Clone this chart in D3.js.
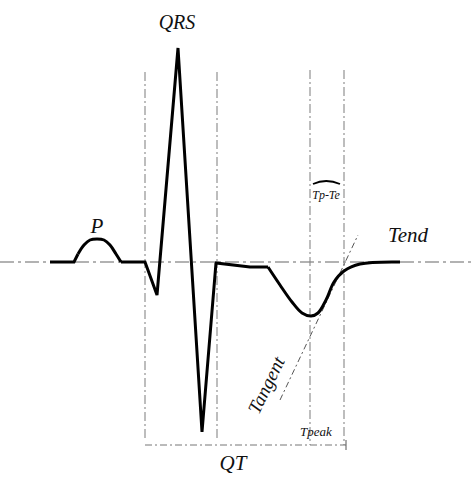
<!DOCTYPE html>
<html><head><meta charset="utf-8">
<script src="https://cdn.jsdelivr.net/npm/d3@7"></script>
<style>body{margin:0;background:#fff}svg{display:block}text{font-family:"Liberation Serif","DejaVu Serif",serif;font-style:italic;fill:#111}</style>
</head><body><svg width="474" height="482"></svg>
<script>
// ECG waveform samples (time units, amplitude units; baseline = 0)
const waveT = [50,74,78,84,90,97,104,110,116,121,145,157,178,202,216,250,268,280,292,302,311,318,326,334,344,360,400];
const waveV = [0,0,8,17,22,23,22,17,8,0,0,-33,214,-170,-1,-5,-5,-23,-40,-51,-54,-51,-38,-20,-9,-2,0];
const markerT = [145,217,310,344];          // vertical reference lines
const markerTop = [72,72,70,70];
const tangentT = [280,358], tangentV = [-138,27];
const labels = ["P","QRS","Tend","Tangent","Tpeak","Tp-Te","QT"];

const svg = d3.select("svg");
const x = d3.scaleLinear().domain([0,474]).range([0,474]);
const y = d3.scaleLinear().domain([-220,262]).range([482,0]);
const base = y(0);
const dash = "9,3,2,3";

svg.append("line").attr("x1",0).attr("x2",474).attr("y1",base).attr("y2",base)
  .attr("stroke","#999").attr("stroke-width",1.3).attr("stroke-dasharray","14,4,3,4");
markerT.forEach((t,i)=>svg.append("line").attr("x1",x(t)).attr("x2",x(t))
  .attr("y1",markerTop[i]).attr("y2",i<2?y(-178):y(-183)).attr("stroke","#888").attr("stroke-width",1.1).attr("stroke-dasharray",dash));
svg.append("line").attr("x1",x(tangentT[0])).attr("y1",y(tangentV[0])).attr("x2",x(tangentT[1])).attr("y2",y(tangentV[1]))
  .attr("stroke","#555").attr("stroke-width",1).attr("stroke-dasharray","6,3,2,3");

const pts = waveT.map((t,i)=>[t,waveV[i]]);
const line = d3.line().x(d=>x(d[0])).y(d=>y(d[1]));
const segs = [pts.slice(0,3), pts.slice(2,10), pts.slice(9,17), pts.slice(16)];
svg.append("path").attr("d",line(segs[0])).attr("fill","none").attr("stroke","#000").attr("stroke-width",3);
svg.append("path").attr("d",d3.line().x(d=>x(d[0])).y(d=>y(d[1])).curve(d3.curveCatmullRom)(segs[1])).attr("fill","none").attr("stroke","#000").attr("stroke-width",3);
svg.append("path").attr("d",d3.line().x(d=>x(d[0])).y(d=>y(d[1]))(segs[2])).attr("fill","none").attr("stroke","#000").attr("stroke-width",3).attr("stroke-linejoin","miter");
svg.append("path").attr("d",d3.line().x(d=>x(d[0])).y(d=>y(d[1])).curve(d3.curveCatmullRom)(segs[3])).attr("fill","none").attr("stroke","#000").attr("stroke-width",3);

// QT interval
svg.append("line").attr("x1",x(145)).attr("x2",x(346)).attr("y1",445).attr("y2",445).attr("stroke","#777").attr("stroke-dasharray","7,3,2,3");
svg.append("line").attr("x1",x(346)).attr("x2",x(346)).attr("y1",440).attr("y2",450).attr("stroke","#555");
// Tp-Te arc
svg.append("path").attr("d",`M${x(313)},184 Q${x(326)},178 ${x(340)},184`).attr("fill","none").attr("stroke","#000").attr("stroke-width",1.8);

svg.append("text").attr("x",97).attr("y",233).attr("text-anchor","middle").attr("font-size",21).text(labels[0]);
svg.append("text").attr("x",177).attr("y",29).attr("text-anchor","middle").attr("font-size",20).text(labels[1]);
svg.append("text").attr("x",408).attr("y",242).attr("text-anchor","middle").attr("font-size",21).text(labels[2]);
svg.append("text").attr("transform","translate(272,388) rotate(-64)").attr("text-anchor","middle").attr("font-size",19).text(labels[3]);
svg.append("text").attr("x",316).attr("y",436).attr("text-anchor","middle").attr("font-size",13).text(labels[4]);
svg.append("text").attr("x",326).attr("y",199).attr("text-anchor","middle").attr("font-size",12).text(labels[5]);
svg.append("text").attr("x",233).attr("y",470).attr("text-anchor","middle").attr("font-size",21).text(labels[6]);
</script></body></html>
